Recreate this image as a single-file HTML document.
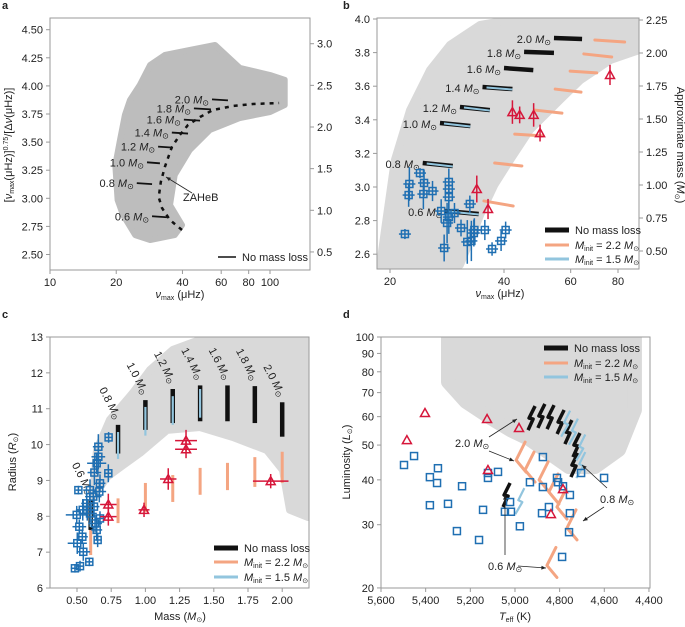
<!DOCTYPE html>
<html><head><meta charset="utf-8">
<style>
html,body{margin:0;padding:0;background:#fff;}
svg{display:block;font-family:"Liberation Sans",Arial,sans-serif;}
text{fill:#222;}
</style></head>
<body>
<svg id="fig" width="685" height="627" viewBox="0 0 685 627" xmlns="http://www.w3.org/2000/svg"></svg>
<script>
// ---------- DATA ----------
// Panel a
const aTickX=[10,20,40,60,80,100];
const aTickY=[2.5,2.75,3.0,3.25,3.5,3.75,4.0,4.25,4.5];
const aTickY2=[0.5,1.0,1.5,2.0,2.5,3.0];
const aMasses=["2.0","1.8","1.6","1.4","1.2","1.0","0.8","0.6"];
const aTrackStart=[54.5,45.1,40.6,35.8,31.0,27.6,24.8,29.1];
const aTrackEnd=[64.4,53.9,48.1,42.4,36.2,31.6,29.1,34.0];
const aTrackY=[3.88,3.80,3.70,3.585,3.46,3.32,3.135,2.84];
const aZahebNu=[39.8,35.1,32.3,31.2,31.9,33.3,35.8,38.9,42.4,48.1,55.0,67.9,83.6,110];
const aZahebY=[2.718,2.807,2.914,3.01,3.145,3.28,3.456,3.563,3.652,3.723,3.786,3.821,3.839,3.848];
const aCloudNu=[28.5,36.9,39.8,35.1,36.9,43.2,53.3,73.0,100,116.6,116.6,100,73.0,56.3,43.2,33.3,28.5,25.6,23.1,21.9,20.8,19.8,20.3,21.5,24.4];
const aCloudY=[2.629,2.673,2.762,2.94,3.207,3.43,3.608,3.714,3.767,3.83,4.053,4.097,4.16,4.364,4.32,4.275,4.186,4.008,3.875,3.741,3.519,3.296,2.985,2.85,2.673];
// Panel b
const bTickX=[20,40,60,80];
const bTickY=[2.6,2.8,3.0,3.2,3.4,3.6,3.8,4.0];
const bTickY2=[0.5,0.75,1.0,1.25,1.5,1.75,2.0,2.25];
const bMasses=["2.0","1.8","1.6","1.4","1.2","1.0","0.8","0.6"];
const bBlackStart=[54.2,45.2,40.0,35.1,30.6,27.1,24.4,28.0];
const bBlackEnd=[64.3,54.2,47.8,42.1,36.7,32.6,29.3,34.3];
const bBlackY0=[3.887,3.804,3.708,3.595,3.476,3.381,3.143,2.857];
const bBlackY1=[3.881,3.798,3.696,3.583,3.458,3.363,3.125,2.839];
const bHasBlue=[0,0,0,1,1,1,1,1];
const bOrStart=[69.5,65.0,59.8,54.6,48.2,42.7,37.8,35.4];
const bOrEnd=[83.3,77.0,70.3,63.9,56.9,50.5,44.6,42.3];
const bOrY0=[3.875,3.792,3.690,3.583,3.458,3.315,3.143,2.917];
const bOrY1=[3.863,3.774,3.679,3.565,3.440,3.304,3.125,2.887];
const bRedNu=[76.2,42.1,44.0,47.9,49.8,33.9,36.3];
const bRedY=[3.667,3.446,3.429,3.429,3.321,2.988,2.869];
const bRedErr=[0.06,0.07,0.05,0.07,0.05,0.08,0.06];
const bBlueNu=[24.0,22.5,22.4,24.6,25.9,24.5,28.6,28.6,28.6,32.5,27.3,28.6,28.3,30.8,33.3,32.0,33.4,32.8,35.6,40.4,39.3,37.2,27.8,21.9,29.6];
const bBlueY=[3.083,3.018,2.952,3.024,2.976,2.958,3.030,2.988,2.940,2.899,2.857,2.821,2.786,2.756,2.726,2.673,2.744,2.679,2.744,2.744,2.679,2.631,2.637,2.720,2.845];
const bBlueErr=[0.03,0.10,0.07,0.08,0.06,0.09,0.08,0.06,0.09,0.05,0.07,0.10,0.12,0.05,0.08,0.13,0.07,0.12,0.06,0.05,0.06,0.04,0.08,0.03,0.06];
const bCloudNu=[18.8,19.4,20.6,22.6,25.5,28.8,34.6,44.0,91,91,76.4,63.7,56.2,46.8,41.5,37.7,34.6,32.6,30.6];
const bCloudY=[2.518,2.744,3.161,3.458,3.696,3.845,3.964,4.006,4.006,3.815,3.756,3.637,3.518,3.339,3.161,3.012,2.833,2.685,2.536];
// Panel c
const cTickX=[0.5,0.75,1.0,1.25,1.5,1.75,2.0];
const cTickY=[6,7,8,9,10,11,12,13];
const cMass=[0.6,0.8,1.0,1.2,1.4,1.6,1.8,2.0];
const cBlackLo=[7.62,9.75,10.41,10.6,10.65,10.65,10.6,10.22];
const cBlackHi=[8.45,10.55,11.24,11.55,11.65,11.65,11.63,11.18];
const cBlueMass=[0.6,0.8,1.0,1.2,1.4];
const cBlueLo=[7.7,9.6,10.25,10.55,10.75];
const cBlueHi=[8.4,10.35,11.05,11.35,11.55];
const cOrLo=[6.92,7.81,8.12,8.4,8.6,8.73,8.82,8.93];
const cOrHi=[7.98,8.5,8.93,9.15,9.35,9.49,9.65,9.8];
const cRedM=[0.729,0.729,0.99,1.167,1.297,1.297,1.916];
const cRedR=[8.33,7.99,8.18,9.04,10.11,9.87,8.98];
const cRedXe=[0.06,0.06,0.04,0.06,0.08,0.08,0.13];
const cRedYe=[0.3,0.25,0.2,0.3,0.3,0.25,0.2];
const cBlueM=[0.510,0.517,0.502,0.485,0.522,0.590,0.546,0.539,0.575,0.595,0.624,0.632,0.651,0.627,0.644,0.656,0.656,0.668,0.663,0.729,0.731,0.644,0.571,0.595,0.498,0.619,0.668,0.542];
const cBlueR=[8.73,7.71,7.25,6.55,6.61,6.73,7.01,7.43,8.18,8.08,8.27,7.80,7.34,9.22,9.48,9.66,9.94,8.92,8.69,9.20,10.20,7.62,8.36,8.73,8.04,8.55,7.94,8.18];
const cBlueXe=[0.02,0.05,0.07,0.03,0.03,0.03,0.05,0.04,0.04,0.05,0.04,0.05,0.03,0.05,0.07,0.05,0.04,0.04,0.05,0.03,0.03,0.04,0.04,0.05,0.08,0.06,0.04,0.05];
const cBlueYe=[0.12,0.2,0.3,0.12,0.15,0.12,0.25,0.2,0.3,0.25,0.3,0.25,0.2,0.35,0.3,0.35,0.35,0.25,0.3,0.25,0.15,0.3,0.3,0.3,0.25,0.25,0.2,0.3];
const cCloudM=[0.646,0.741,0.909,1.034,1.202,1.399,1.640,1.889,2.189,2.189,2.057,2.006,1.889,1.640,1.399,1.158,0.961,0.814,0.719,0.617];
const cCloudR=[9.849,10.69,11.44,12.08,12.64,12.92,13,13.06,13.06,7.98,8.18,9.29,9.85,10.21,10.49,10.41,9.77,9.37,9.10,8.54];
// Panel d
const dTickX=[5600,5400,5200,5000,4800,4600,4400];
const dTickY=[20,30,40,50,60,70,80,90,100];
const dBlackT=[4910,4866,4825,4780,4745,4709,4718,5022];
const dBlackL=[64.2,65.1,64.6,62.6,58.7,54.0,47.5,39.2];
const dBlueT=[4780,4745,4712,4712,4985];
const dBlueL=[60.0,57.0,51.5,46.0,36.5];
const dOrT=[4995,4955,4892,4848,4812,4767,4857];
const dOrL=[45.4,42.6,40.0,37.0,33.6,29.4,23.1];
const dRedT=[5484,5403,5125,4982,5121,4785,4839];
const dRedL=[51.6,61.4,59.1,55.8,42.6,37.7,32.1];
const dSqT=[5497,5452,5381,5345,5349,5300,5237,5381,5260,5161,5143,5121,5121,5076,5045,5018,5022,4978,4933,4875,4875,4879,4848,4812,4807,4785,4754,4754,4758,4789,4704,4601];
const dSqL=[44.0,46.6,40.7,43.1,39.2,34.3,38.4,34.0,28.8,27.2,33.0,41.8,40.5,42.1,32.6,32.6,34.7,29.7,39.4,46.3,38.2,32.3,33.6,40.5,39.4,38.4,36.3,32.3,28.6,24.4,41.8,40.5];
const dCloudT=[5300,5300,5220,5120,5020,4937,4848,4758,4642,4534,4463,4463];
const dCloudL=[100,75.0,66.0,60.0,55.0,52.0,47.5,43.4,43.4,48.5,62.6,100];

// ---------- SCALES ----------
const L10=Math.log10;
const ax=v=>50+220*L10(v/10), ay=v=>29.7+(4.5-v)*112.4, ay2=v=>43.7+(3.0-v)*83.3;
const bx=v=>390+378.7*L10(v/20), by=v=>19+(4-v)*168, by2=v=>20+(2.25-v)*132;
const cx=v=>77+(v-0.5)*136.8, cy=v=>337+(13-v)*35.86;
const dx=v=>381+(5600-v)*0.2233, dy=v=>337+(2-L10(v))*359;

const NS="http://www.w3.org/2000/svg";
const svg=document.getElementById('fig');
function mk(tag,attrs,parent){const e=document.createElementNS(NS,tag);for(const k in attrs)e.setAttribute(k,attrs[k]);(parent||svg).appendChild(e);return e;}
const GRID="#9a9a9a", ORANGE="#f4a582", LBLUE="#92c5de", BLUE="#1f6fb2", RED="#d6163a";
const CLOUD_A="#bdbdbd", CLOUD="#d9d9d9";

function clip(id,x0,y0,x1,y1){const d=mk('defs',{});const c=mk('clipPath',{id:id},d);mk('rect',{x:x0,y:y0,width:x1-x0,height:y1-y0},c);}
function box(x0,y0,x1,y1,name){const r=mk('rect',{x:x0,y:y0,width:x1-x0,height:y1-y0,fill:'none',stroke:GRID,'stroke-width':1});

}
function txt(x,y,s,opt,name){const t=mk('text',Object.assign({x:x,y:y,'font-size':11},opt||{}));t.innerHTML=s;

return t;}
function msun(m){return m+' <tspan font-style="italic">M</tspan><tspan font-size="8" dy="2">⊙</tspan>';}
function xticks(vals,f,y,fmt,name){vals.forEach(v=>{const X=f(v);const l=mk('line',{x1:X,x2:X,y1:y,y2:y+4,stroke:GRID});


txt(X,y+16,fmt(v),{'text-anchor':'middle'},name+'-label');});}
function yticks(vals,f,x,dir,fmt,name){vals.forEach(v=>{const Y=f(v);const l=mk('line',{x1:x,x2:x+4*dir,y1:Y,y2:Y,stroke:GRID});


txt(x+7*dir,Y+4,fmt(v),{'text-anchor':dir<0?'end':'start'},name+'-label');});}
function poly(xs,ys,fx,fy,attrs,name,cl){const pts=xs.map((v,i)=>fx(v).toFixed(1)+','+fy(ys[i]).toFixed(1)).join(' ');
const p=mk(attrs.fill&&attrs.fill!=='none'?'polygon':'polyline',Object.assign({points:pts,'clip-path':'url(#'+cl+')'},attrs));

return p;}
function seg(x1,y1,x2,y2,attrs,name){const l=mk('line',Object.assign({x1:x1,y1:y1,x2:x2,y2:y2},attrs));

return l;}
function sq(X,Y,name){const r=mk('rect',{x:X-3.5,y:Y-3.5,width:7,height:7,fill:'none',stroke:BLUE,'stroke-width':1.5});

}
function tri(X,Y,name){const p=mk('polygon',{points:`${X},${Y-4.5} ${X-4.5},${Y+3.5} ${X+4.5},${Y+3.5}`,fill:'none',stroke:RED,'stroke-width':1.5});

}
function arrow(x1,y1,x2,y2,name){seg(x1,y1,x2,y2,{stroke:'#222','stroke-width':0.8},name);
const a=Math.atan2(y2-y1,x2-x1),s=5;
const h=mk('polygon',{points:`${x2},${y2} ${x2-s*Math.cos(a-0.4)},${y2-s*Math.sin(a-0.4)} ${x2-s*Math.cos(a+0.4)},${y2-s*Math.sin(a+0.4)}`,fill:'#222'});

}
function legend(x,ys,labels,colors,w,name){ys.forEach((y,i)=>{seg(x,y,x+24,y,{stroke:colors[i],'stroke-width':w[i]},name+'-swatch');
txt(x+30,y+4,labels[i],{'font-size':11},name+'-label');});}
const mi='<tspan font-style="italic">M</tspan><tspan font-size="7" dy="2">init</tspan><tspan dy="-2"> = </tspan>';

// panel letters
txt(2,9,'a',{'font-weight':'bold','font-size':11},'panel-a-letter');
txt(343,9,'b',{'font-weight':'bold','font-size':11},'panel-b-letter');
txt(2,318,'c',{'font-weight':'bold','font-size':11},'panel-c-letter');
txt(343,318,'d',{'font-weight':'bold','font-size':11},'panel-d-letter');

// ===== Panel a =====
clip('ca',50,18,310,270);
poly(aCloudNu,aCloudY,ax,ay,{fill:CLOUD_A,stroke:CLOUD_A,'stroke-width':6,'stroke-linejoin':'round'},'a-star-cloud','ca');
poly(aZahebNu,aZahebY,ax,ay,{fill:'none',stroke:'#111','stroke-width':2.5,'stroke-dasharray':'4,5'},'a-zaheb-line','ca');
aMasses.forEach((m,i)=>{seg(ax(aTrackStart[i]),ay(aTrackY[i]),ax(aTrackEnd[i]),ay(aTrackY[i])+1,{stroke:'#111','stroke-width':1.8},'a-track-'+m);
txt(ax(aTrackStart[i])-3,ay(aTrackY[i])+4,msun(m),{'text-anchor':'end'},'a-mass-label');});
txt(183,201,'ZAHeB',{},'a-zaheb-label');
arrow(192,193,166,177,'a-zaheb-arrow');
box(50,18,310,270,'a-plot-frame');
xticks(aTickX,ax,270,v=>v,'a-x');
yticks(aTickY,ay,50,-1,v=>v.toFixed(2),'a-y');
yticks(aTickY2,ay2,310,1,v=>v.toFixed(1),'a-y2');
txt(180,298,'<tspan font-style="italic">ν</tspan><tspan font-size="7" dy="2">max</tspan><tspan dy="-2"> (μHz)</tspan>',{'text-anchor':'middle'},'a-x-title');
txt(0,0,'[<tspan font-style="italic">ν</tspan><tspan font-size="7" dy="2">max</tspan><tspan dy="-2">(μHz)]</tspan><tspan font-size="7" dy="-4">0.75</tspan><tspan dy="4">/[Δ</tspan><tspan font-style="italic">ν</tspan>(μHz)]',{'text-anchor':'middle',transform:'translate(12,145) rotate(-90)'},'a-y-title');
seg(218,257,236,257,{stroke:'#111','stroke-width':1.5},'a-legend-swatch');
txt(242,261,'No mass loss',{},'a-legend-label');

// ===== Panel b =====
clip('cb',377,18,639,269);
poly(bCloudNu,bCloudY,bx,by,{fill:CLOUD,stroke:CLOUD,'stroke-width':8,'stroke-linejoin':'round'},'b-star-cloud','cb');
bOrStart.forEach((v,i)=>seg(bx(v),by(bOrY0[i]),bx(bOrEnd[i]),by(bOrY1[i]),{stroke:ORANGE,'stroke-width':3,'stroke-linecap':'round'},'b-orange-track'));
bMasses.forEach((m,i)=>{seg(bx(bBlackStart[i]),by(bBlackY0[i]),bx(bBlackEnd[i]),by(bBlackY1[i]),{stroke:'#111','stroke-width':4.5},'b-black-track-'+m);
if(bHasBlue[i])seg(bx(bBlackStart[i])+4,by(bBlackY0[i])+0.5,bx(bBlackEnd[i]),by(bBlackY1[i])+0.5,{stroke:LBLUE,'stroke-width':2},'b-blue-track-'+m);
txt(bx(bBlackStart[i])-3,by(bBlackY0[i])+5,msun(m),{'text-anchor':'end'},'b-mass-label');});
bBlueNu.forEach((v,i)=>{const X=bx(v),Y=by(bBlueY[i]);
seg(X,by(bBlueY[i]+bBlueErr[i]),X,by(bBlueY[i]-bBlueErr[i]),{stroke:BLUE,'stroke-width':1.5},'b-blue-errorbar');
seg(X-6,Y,X+6,Y,{stroke:BLUE,'stroke-width':1.5},'b-blue-xerr');
sq(X,Y,'b-blue-star');});
bRedNu.forEach((v,i)=>{const X=bx(v),Y=by(bRedY[i]);
seg(X,by(bRedY[i]+bRedErr[i]),X,by(bRedY[i]-bRedErr[i]),{stroke:RED,'stroke-width':1.5},'b-red-errorbar');
tri(X,Y,'b-red-star');});
box(377,18,639,269,'b-plot-frame');
xticks(bTickX,bx,269,v=>v,'b-x');
yticks(bTickY,by,377,-1,v=>v.toFixed(1),'b-y');
yticks(bTickY2,by2,639,1,v=>v.toFixed(2),'b-y2');
txt(500,297,'<tspan font-style="italic">ν</tspan><tspan font-size="7" dy="2">max</tspan><tspan dy="-2"> (μHz)</tspan>',{'text-anchor':'middle'},'b-x-title');
txt(0,0,'Approximate mass (<tspan font-style="italic">M</tspan><tspan font-size="7" dy="2">⊙</tspan><tspan dy="-2">)</tspan>',{'text-anchor':'middle',transform:'translate(677,145) rotate(90)'},'b-y2-title');
legend(545,[230,245,259],['No mass loss',mi+'2.2 <tspan font-style="italic">M</tspan><tspan font-size="7" dy="2">⊙</tspan>',mi+'1.5 <tspan font-style="italic">M</tspan><tspan font-size="7" dy="2">⊙</tspan>'],['#111',ORANGE,LBLUE],[5,3,3],'b-legend');

// ===== Panel c =====
clip('cc',50,337,309,588);
poly(cCloudM,cCloudR,cx,cy,{fill:CLOUD,stroke:CLOUD,'stroke-width':8,'stroke-linejoin':'round'},'c-star-cloud','cc');
cMass.forEach((m,i)=>{const X=cx(m);
seg(X,cy(cOrLo[i]),X,cy(cOrHi[i]),{stroke:ORANGE,'stroke-width':3},'c-orange-bar');
seg(X,cy(cBlackLo[i]),X,cy(cBlackHi[i]),{stroke:'#111','stroke-width':4.5},'c-black-bar');
txt(0,0,msun(m.toFixed(1)),{'text-anchor':'end',transform:`translate(${X-3},${cy(cBlackHi[i])-5}) rotate(62)`},'c-mass-label');});
cBlueMass.forEach((m,i)=>seg(cx(m),cy(cBlueLo[i]),cx(m),cy(cBlueHi[i]),{stroke:LBLUE,'stroke-width':2.2},'c-blue-bar'));
cBlueM.forEach((m,i)=>{const X=cx(m),Y=cy(cBlueR[i]);
seg(X,cy(cBlueR[i]+cBlueYe[i]),X,cy(cBlueR[i]-cBlueYe[i]),{stroke:BLUE,'stroke-width':1.5},'c-blue-yerr');
seg(cx(m-cBlueXe[i]),Y,cx(m+cBlueXe[i]),Y,{stroke:BLUE,'stroke-width':1.5},'c-blue-xerr');
sq(X,Y,'c-blue-star');});
cRedM.forEach((m,i)=>{const X=cx(m),Y=cy(cRedR[i]);
seg(X,cy(cRedR[i]+cRedYe[i]),X,cy(cRedR[i]-cRedYe[i]),{stroke:RED,'stroke-width':1.5},'c-red-yerr');
seg(cx(m-cRedXe[i]),Y,cx(m+cRedXe[i]),Y,{stroke:RED,'stroke-width':1.5},'c-red-xerr');
tri(X,Y,'c-red-star');});
box(50,337,309,588,'c-plot-frame');
xticks(cTickX,cx,588,v=>v.toFixed(2),'c-x');
yticks(cTickY,cy,50,-1,v=>v,'c-y');
txt(180,620,'Mass (<tspan font-style="italic">M</tspan><tspan font-size="7" dy="2">⊙</tspan><tspan dy="-2">)</tspan>',{'text-anchor':'middle'},'c-x-title');
txt(0,0,'Radius (<tspan font-style="italic">R</tspan><tspan font-size="7" dy="2">⊙</tspan><tspan dy="-2">)</tspan>',{'text-anchor':'middle',transform:'translate(16,462) rotate(-90)'},'c-y-title');
legend(214,[548,562,577],['No mass loss',mi+'2.2 <tspan font-style="italic">M</tspan><tspan font-size="7" dy="2">⊙</tspan>',mi+'1.5 <tspan font-style="italic">M</tspan><tspan font-size="7" dy="2">⊙</tspan>'],['#111',ORANGE,LBLUE],[5,3,3],'c-legend');

// ===== Panel d =====
clip('cd',381,337,650,588);
poly(dCloudT,dCloudL,dx,dy,{fill:CLOUD,stroke:CLOUD,'stroke-width':14,'stroke-linejoin':'round'},'d-star-cloud','cd');
dOrT.forEach((t,i)=>{const X=dx(t),Y=dy(dOrL[i]);
const p=mk('polyline',{points:`${X+9},${Y-18} ${X},${Y} ${X+10},${Y+12}`,fill:'none',stroke:ORANGE,'stroke-width':3,'stroke-linecap':'round','stroke-linejoin':'round'});

});
dBlackT.forEach((t,i)=>{const X=dx(t),Y=dy(dBlackL[i]);
const p=mk('polyline',{points:`${X},${Y} ${X-6},${Y+12} ${X-2},${Y+13} ${X-7},${Y+24}`,fill:'none',stroke:'#111','stroke-width':3.5,'stroke-linejoin':'round'});

});
dBlueT.forEach((t,i)=>{const X=dx(t),Y=dy(dBlueL[i]);
const p=mk('polyline',{points:`${X+6},${Y-6} ${X},${Y+6} ${X+4},${Y+8} ${X-3},${Y+20}`,fill:'none',stroke:LBLUE,'stroke-width':2.2,'stroke-linejoin':'round'});

});
dSqT.forEach((t,i)=>sq(dx(t),dy(dSqL[i]),'d-blue-star'));
dRedT.forEach((t,i)=>tri(dx(t),dy(dRedL[i]),'d-red-star'));
box(381,337,650,588,'d-plot-frame');
xticks(dTickX,dx,588,v=>v.toLocaleString('en-US'),'d-x');
yticks(dTickY,dy,381,-1,v=>v,'d-y');
txt(515,620,'<tspan font-style="italic">T</tspan><tspan font-size="7" dy="2">eff</tspan><tspan dy="-2"> (K)</tspan>',{'text-anchor':'middle'},'d-x-title');
txt(0,0,'Luminosity (<tspan font-style="italic">L</tspan><tspan font-size="7" dy="2">⊙</tspan><tspan dy="-2">)</tspan>',{'text-anchor':'middle',transform:'translate(350,462) rotate(-90)'},'d-y-title');
txt(455,447,msun('2.0'),{},'d-label-2.0');
arrow(489,437,517,419,'d-arrow-2.0a');
arrow(489,451,514,461,'d-arrow-2.0b');
txt(600,503,msun('0.8'),{},'d-label-0.8');
arrow(607,488,582,465,'d-arrow-0.8a');
arrow(604,507,583,521,'d-arrow-0.8b');
txt(488,570,msun('0.6'),{},'d-label-0.6');
arrow(505,555,505,495,'d-arrow-0.6a');
arrow(518,566,546,568,'d-arrow-0.6b');
legend(544,[348,363,377],['No mass loss',mi+'2.2 <tspan font-style="italic">M</tspan><tspan font-size="7" dy="2">⊙</tspan>',mi+'1.5 <tspan font-style="italic">M</tspan><tspan font-size="7" dy="2">⊙</tspan>'],['#111',ORANGE,LBLUE],[5,3,3],'d-legend');
</script>
</body></html>
